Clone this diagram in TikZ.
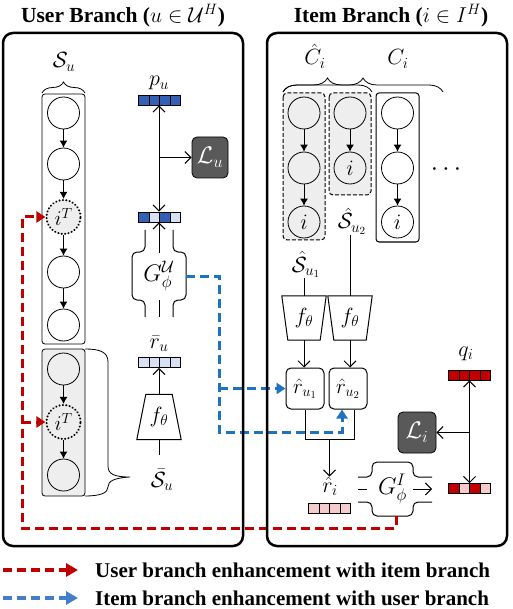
\RequirePackage{fix-cm}
\documentclass[tikz,border=0pt]{standalone}
\usepackage{fontspec}
\setmainfont{Liberation Serif}
\usetikzlibrary{arrows.meta,decorations.pathreplacing,calc}
\definecolor{dblue}{RGB}{52,96,180}
\definecolor{lblue}{RGB}{216,225,242}
\definecolor{dred}{RGB}{192,0,0}
\definecolor{pinkc}{RGB}{244,204,204}
\definecolor{boxgray}{RGB}{89,89,89}
\definecolor{lgray}{RGB}{238,238,238}
\definecolor{ublue}{RGB}{30,115,190}
\definecolor{legblue}{RGB}{70,125,200}
\tikzset{
 lab/.style={font=\fontsize{22}{26}\selectfont, inner sep=0pt},
 seqc/.style={circle, draw, line width=0.8pt, minimum size=32pt, inner sep=0pt, font=\fontsize{22}{26}\selectfont},
 tc/.style={circle, draw, line width=2.2pt, dash pattern=on 0.1pt off 3.3pt, line cap=round, fill=lgray, minimum size=34pt, inner sep=0pt, font=\fontsize{21}{26}\selectfont},
 seqar/.style={-{Latex[length=7pt,width=8pt]}, line width=1pt},
 oar/.style={-{Straight Barb[length=6pt,width=12pt]}, line width=1pt},
 dar/.style={{Straight Barb[length=6pt,width=12pt]}-{Straight Barb[length=6pt,width=12pt]}, line width=1pt},
 thin1/.style={line width=1pt},
 seqbox/.style={draw, line width=0.8pt, rounded corners=3pt},
 dashbox/.style={draw, line width=1pt, dash pattern=on 4pt off 2pt, rounded corners=4pt, fill=lgray},
 mainbox/.style={draw, line width=2.5pt, rounded corners=10pt},
 lossbox/.style={draw=black, line width=0.8pt, fill=boxgray, rounded corners=5pt, text=white, minimum width=36pt, minimum height=41pt, inner sep=0pt, font=\fontsize{24}{28}\selectfont},
 rbox/.style={draw, line width=1pt, rounded corners=5pt, minimum width=38pt, minimum height=41pt, inner sep=0pt, font=\fontsize{21}{26}\selectfont},
 reddash/.style={draw=dred, line width=3pt, dash pattern=on 9pt off 5pt, -{Triangle[length=9pt,width=11pt]}},
 bluedash/.style={draw=ublue, line width=3pt, dash pattern=on 9pt off 5pt, -{Triangle[length=9pt,width=11pt]}},
 legred/.style={draw=dred, line width=3.5pt, dash pattern=on 9pt off 5pt, -{Triangle[length=12pt,width=13pt]}, color=dred},
 legblue/.style={draw=legblue, line width=3.5pt, dash pattern=on 9pt off 5pt, -{Triangle[length=12pt,width=13pt]}, color=legblue},
 brc/.style={decorate, decoration={brace, amplitude=#1}, line width=0.8pt},
 vec/.style n args={4}{draw, line width=0.7pt, minimum width=42pt, minimum height=10pt, inner sep=0pt,
   path picture={
     \foreach \c [count=\k from 0] in {#1,#2,#3,#4} {\fill[\c] ([xshift=\k*10.5pt]path picture bounding box.south west) rectangle ++(10.5pt,10pt);}
     \foreach \k in {1,2,3} {\draw[line width=0.7pt] ([xshift=\k*10.5pt]path picture bounding box.south west) -- ++(0pt,10pt);}
   }},
 ttl/.style={font=\fontsize{21.5}{24}\selectfont\bfseries, inner sep=0pt},
 legt/.style={font=\fontsize{21}{24}\selectfont\bfseries, inner sep=0pt, anchor=west}
}
\begin{document}
\begin{tikzpicture}[x=1pt,y=-1pt]
\useasboundingbox (0,0) rectangle (512,609);
\fill[white] (0,0) rectangle (512,609);

% titles
\node[ttl] (t1) at (123,16) {User Branch ($u \in \mathcal{U}^H$)};
\node[ttl] (t2) at (391,16) {Item Branch ($i \in I^H$)};

% ---------------- user branch ----------------
\draw[seqbox] (42,94) rectangle (85,344);
\draw[seqbox, fill=lgray] (42,349) rectangle (85,496);
\node[seqc] (a1) at (63.5,113) {};
\node[seqc] (a2) at (63.5,164) {};
\node[tc]   (tu) at (63.5,217) {$i^T$};
\node[seqc] (a4) at (63.5,272) {};
\node[seqc] (a5) at (63.5,325) {};
\draw[seqar] (a1) -- (a2);
\draw[seqar] (a2) -- (tu);
\draw[seqar] (tu) -- (a4);
\draw[seqar] (a4) -- (a5);
\node[seqc] (b1) at (63.5,369) {};
\node[tc]   (tl) at (63.5,422) {$i^T$};
\node[seqc] (b3) at (63.5,475) {};
\draw[seqar] (b1) -- (tl);
\draw[seqar] (tl) -- (b3);

\draw[brc=11pt] (42,93) -- (85,93);
\node[lab, anchor=base] (su) at (64,68) {$\mathcal{S}_u$};

% side brace for bar S_u
\draw[line width=0.8pt] (85,349) .. controls (100,349) and (108,352) .. (108,362)
  -- (108,466) .. controls (108,474) and (114,477) .. (130,477)
  .. controls (114,478) and (108,481) .. (108,487)
  .. controls (108,493) and (100,496) .. (85,496);

% p_u, loss
\node[lab, anchor=base] (pul) at (159,86) {$p_u$};
\node[vec={dblue}{dblue}{dblue}{dblue}] (pu) at (159.5,100) {};
\node[vec={dblue}{lblue}{dblue}{lblue}] (mv) at (159.5,217) {};
\draw[dar] (pu.south -| 159,0) -- (mv.north -| 159,0);
\node[lossbox] (lu) at (210,157.5) {$\mathcal{L}_u$};
\coordinate (lub) at (159,157.5);
\draw[oar] (lub) -- (lu.west);

% G_phi^U
\node[lab, minimum width=54pt, minimum height=48pt, font=\fontsize{24}{28}\selectfont] (gu) at (159,276) {$G_\phi^{\mathcal{U}}$};
\draw[thin1, rounded corners=5pt] (145,230) -- (145,252) -- (132,252) -- (132,300) -- (145,300) -- (145,317);
\draw[thin1, rounded corners=5pt] (173,230) -- (173,252) -- (186,252) -- (186,300) -- (173,300) -- (173,317);
\draw[thin1] (159,300) -- (159,317);
\draw[oar] (159,253) -- (mv.south -| 159,0);

% bar r_u
\node[lab, anchor=base] (rul) at (159,348) {$\bar{r}_u$};
\node[vec={lblue}{lblue}{lblue}{lblue}] (rv) at (159.5,362.5) {};
\node[lab, minimum width=44pt, minimum height=45pt] (ftl) at (159,417) {$f_\theta$};
\draw[thin1] (ftl.south west) -- (ftl.south east) -- ([xshift=-9pt]ftl.north east) -- ([xshift=9pt]ftl.north west) -- cycle;
\draw[oar] (ftl.north) -- (rv.south -| ftl.north);
\node[lab] (sbar) at (162,480) {$\bar{\mathcal{S}}_u$};
\draw[thin1] (ftl.south) -- (ftl.south |- 0,455);

% ---------------- item branch ----------------
\draw[dashbox] (283,93) rectangle (325,240);
\draw[dashbox] (329,93) rectangle (371,195);
\draw[seqbox, line width=1pt] (376,93) rectangle (419,242);
\node[seqc] (c11) at (304,113) {};
\node[seqc] (c12) at (304,168) {};
\node[seqc] (c13) at (304,222) {$i$};
\draw[seqar] (c11) -- (c12);
\draw[seqar] (c12) -- (c13);
\node[seqc] (c21) at (350,113) {};
\node[seqc] (c22) at (350,168) {$i$};
\draw[seqar] (c21) -- (c22);
\node[seqc] (c31) at (397.5,113) {};
\node[seqc] (c32) at (397.5,168) {};
\node[seqc] (c33) at (397.5,222) {$i$};
\draw[seqar] (c31) -- (c32);
\draw[seqar] (c32) -- (c33);
\node[lab, font=\fontsize{26}{30}\selectfont] (dots) at (446,170) {$\cdots$};

\draw[brc=14pt] (283,92) -- (372,92);
\draw[brc=14pt] (283,92) -- (443,92);
\node[lab, anchor=base] (chat) at (315,65) {$\hat{C}_i$};
\node[lab, anchor=base] (cc) at (398,65) {$C_i$};

\node[lab, anchor=base] (su2) at (352,229) {$\hat{\mathcal{S}}_{u_2}$};
\node[lab, anchor=base] (su1) at (306,272) {$\hat{\mathcal{S}}_{u_1}$};

\node[lab, minimum width=44pt, minimum height=44pt] (ft1) at (304,318) {$f_\theta$};
\draw[thin1] (ft1.north west) -- (ft1.north east) -- ([xshift=-6pt]ft1.south east) -- ([xshift=6pt]ft1.south west) -- cycle;
\node[lab, minimum width=44pt, minimum height=44pt] (ft2) at (350,318) {$f_\theta$};
\draw[thin1] (ft2.north west) -- (ft2.north east) -- ([xshift=-6pt]ft2.south east) -- ([xshift=6pt]ft2.south west) -- cycle;
\draw[thin1] (ft1.north |- su1.south) -- (ft1.north);
\draw[thin1] (ft2.north |- su2.south) -- (ft2.north);

\node[rbox] (ru1) at (305,388.5) {$\hat{r}_{u_1}$};
\node[rbox] (ru2) at (348,388.5) {$\hat{r}_{u_2}$};
\draw[oar] (ft1.south) -- (ft1.south |- ru1.north);
\draw[oar] (ft2.south) -- (ft2.south |- ru2.north);
\draw[thin1] (ru1.south) |- (354,439) -- (354,0 |- ru2.south);
\coordinate (jn) at (329.5,439);
\node[lab, anchor=base] (ril) at (330,492) {$\hat{r}_i$};
\draw[oar] (jn) -- (ril.north -| jn);
\node[vec={pinkc}{pinkc}{pinkc}{pinkc}] (riv) at (329.5,508) {};

% G_phi^I
\node[lab, minimum width=41pt, minimum height=54pt, font=\fontsize{24}{28}\selectfont] (gi) at (392.5,489) {$G_\phi^{I}$};
\draw[thin1, rounded corners=5pt] (358,477) -- (372,477) -- (372,462) -- (413,462) -- (413,477) -- (432,477);
\draw[thin1, rounded corners=5pt] (358,502) -- (372,502) -- (372,516) -- (413,516) -- (413,502) -- (432,502);
\draw[thin1] (358,489) -- (367,489);
\coordinate (gie) at (432,489);
\draw[oar] (gi.east) -- (gie);

% q_i
\node[lab, anchor=base] (qil) at (466,356) {$q_i$};
\node[vec={dred}{dred}{dred}{dred}] (qv) at (469.5,375) {};
\node[vec={dred}{pinkc}{dred}{pinkc}] (qv2) at (469.5,488.5) {};
\draw[dar] (qv.south) -- (qv2.north);
\node[lossbox, minimum width=38pt] (li) at (417,432.5) {$\mathcal{L}_i$};
\coordinate (lib) at (469.5,432.5);
\draw[oar] (lib) -- (li.east);

% ---------------- enhancement connectors ----------------
\coordinate (rc) at (22,528);
\coordinate (rj) at (22,422);
\draw[reddash] ([xshift=4pt]gi.south) |- (rc) |- (tu.west);
\draw[reddash] (rj) -- (tl.west);

\coordinate (bc) at (219,432);
\coordinate (bj) at (219,388.5);
\draw[bluedash] (gu.east) -| (bc) -| (342,0 |- ru2.south);
\draw[bluedash] (bj) -- (ru1.west);

% main boxes
\draw[mainbox] (3,33) rectangle (243,546);
\draw[mainbox] (267,33) rectangle (507,546);

% legend
\coordinate (l1a) at (3,570); \coordinate (l1b) at (78,570);
\coordinate (l2a) at (3,598); \coordinate (l2b) at (78,598);
\draw[legred] (l1a) -- (l1b);
\draw[legblue] (l2a) -- (l2b);
\node[legt] (lg1) at (95,570) {User branch enhancement with item branch};
\node[legt] (lg2) at (95,598) {Item branch enhancement with user branch};
\end{tikzpicture}
\end{document}
